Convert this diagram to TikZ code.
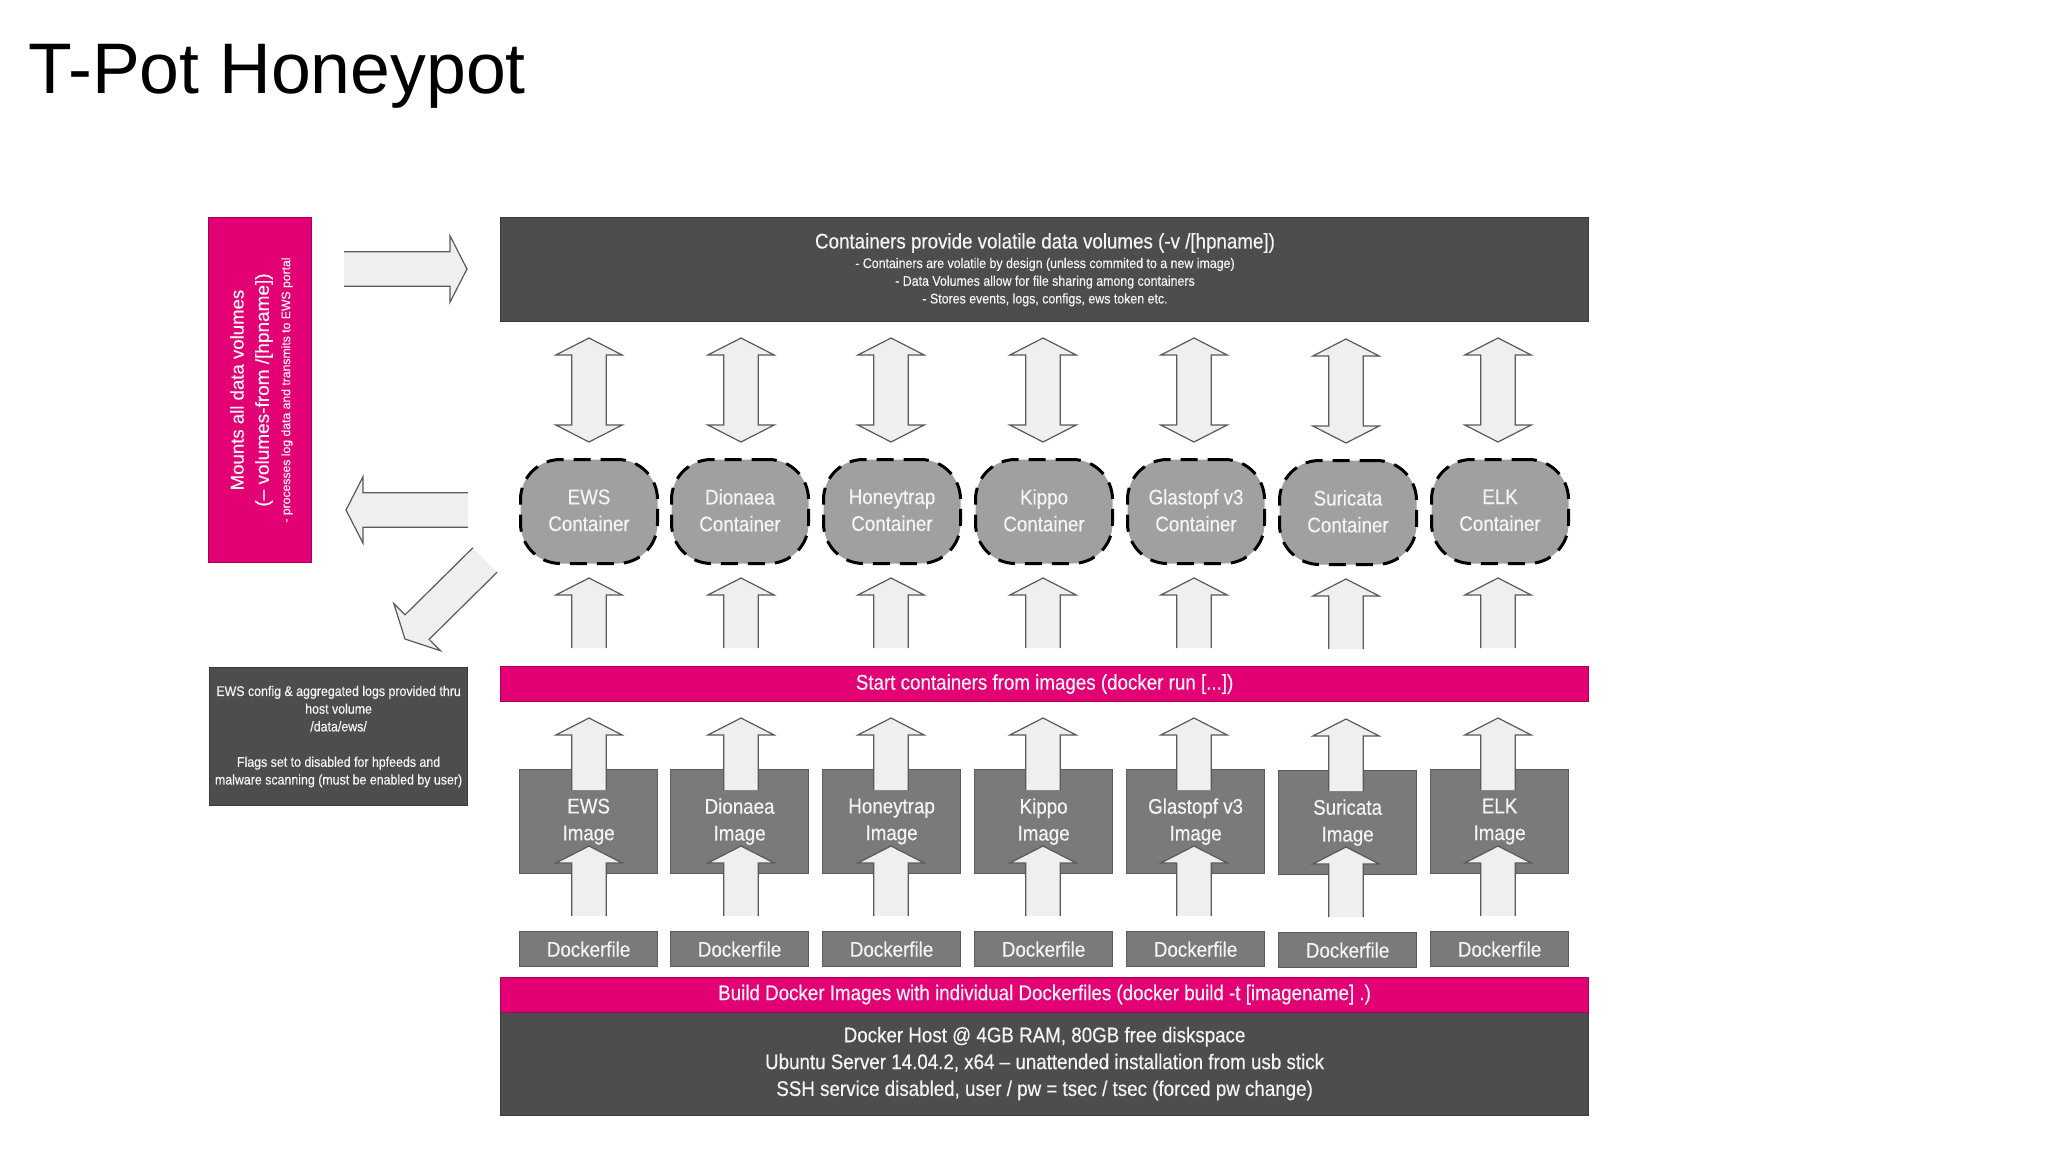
\documentclass[tikz,border=0pt]{standalone}
\usepackage{fontspec}
\setmainfont[FakeStretch=0.885,FakeBold=0.4]{Liberation Sans}
\newfontfamily\arialf{Liberation Sans}
\newfontfamily\arialb[FakeBold=0.4]{Liberation Sans}
\usetikzlibrary{calc}
\definecolor{tpink}{HTML}{E20074}
\definecolor{tdark}{HTML}{4D4D4D}
\definecolor{timg}{HTML}{7A7A7A}
\definecolor{tcont}{HTML}{A0A0A0}
\definecolor{tarrow}{HTML}{EFEFEF}
\definecolor{ttext}{HTML}{F4F4F4}
\tikzset{
  box/.style={draw=#1!75!black,line width=.6pt,fill=#1,text=ttext,inner sep=0pt,align=center,anchor=north west},
  sized/.style 2 args={minimum width=#1*.5pt,minimum height=#2*.5pt},
  big/.style={font=\fontsize{10.6}{13.4}\selectfont},
  small/.style={font=\fontsize{7}{8.85}\selectfont},
  imgbox/.style={box=timg,sized={138}{104},big},
  dockbox/.style={box=timg,sized={138}{35},big},
  contbox/.style={draw=black,line width=1.5pt,dash pattern=on 8.5pt off 5pt,fill=tcont,
     rounded corners=20pt,inner sep=0pt,anchor=north west,sized={137}{104}},
  contlabel/.style={text=ttext,align=center,inner sep=0pt,yshift=.6pt,big},
  arrowfill/.style={fill=tarrow,draw=none},
  arrowline/.style={draw=black!65,line width=.6pt,line join=miter}
}
\newcommand{\arrowcorners}[3]{% base, tip, suffix
  \coordinate (hb#3) at ($(#2)!8.5pt!(#1)$);
  \coordinate (L1#3) at ($(hb#3)!8.6pt!90:(#2)$);
  \coordinate (R1#3) at ($(hb#3)!8.6pt!-90:(#2)$);
  \coordinate (L2#3) at ($(hb#3)!16.6pt!90:(#2)$);
  \coordinate (R2#3) at ($(hb#3)!16.6pt!-90:(#2)$);
}
\newcommand{\blockarrow}[2]{%
  \arrowcorners{#1}{#2}{a}
  \coordinate (L0) at ($(#1)!8.6pt!90:(#2)$);
  \coordinate (R0) at ($(#1)!8.6pt!-90:(#2)$);
  \path[arrowfill] (L0)--(L1a)--(L2a)--(#2)--(R2a)--(R1a)--(R0)--cycle;
  \path[arrowline] (L0)--(L1a)--(L2a)--(#2)--(R2a)--(R1a)--(R0);
}
\newcommand{\doublearrow}[2]{%
  \arrowcorners{#1}{#2}{a}
  \arrowcorners{#2}{#1}{b}
  \path[arrowfill,arrowline] (#1)--(L2b)--(L1b)--(R1a)--(R2a)--(#2)--(L2a)--(L1a)--(R1b)--(R2b)--cycle;
}
\begin{document}
\begin{tikzpicture}[x=.5pt,y=-.5pt]
\useasboundingbox (0,0) rectangle (2048,1152);
\node[anchor=base west,inner sep=0pt,font=\arialf\fontsize{35.8}{40}\selectfont] (title) at (28,93) {T-Pot Honeypot};

% left panels
\node[box=tpink,sized={103}{345}] (mount) at (208,217) {};
\node[rotate=90,text=ttext,inner sep=0pt,font=\arialb\fontsize{9.3}{12}\selectfont] (m1) at (237,390) {Mounts all data volumes};
\node[rotate=90,text=ttext,inner sep=0pt,font=\arialb\fontsize{9.5}{12}\selectfont] (m2) at (264,390) {(– volumes-from /[hpname])};
\node[rotate=90,text=ttext,inner sep=0pt,font=\arialb\fontsize{6.1}{8}\selectfont] (m3) at (287,390) {- processes log data and transmits to EWS portal};

\node[box=tdark,sized={258}{138},small] (ews) at (209,667)
 {EWS config \& aggregated logs provided thru\\host volume\\/data/ews/\\[8.85pt]Flags set to disabled for hpfeeds and\\malware scanning (must be enabled by user)};

% wide bars
\node[box=tdark,sized={1088}{104}] (vol) at (500,217) {};
\node[text=ttext,inner sep=0pt,font=\fontsize{10.6}{13}\selectfont] (volt) at (1045,243) {Containers provide volatile data volumes (-v /[hpname])};
\node[text=ttext,inner sep=0pt,align=center,anchor=north,small] (vols) at (1045,257.5)
 {- Containers are volatile by design (unless commited to a new image)\\- Data Volumes allow for file sharing among containers\\- Stores events, logs, configs, ews token etc.};
\node[box=tpink,sized={1088}{35},big] (start) at (500,666) {Start containers from images (docker run [...])};
\node[box=tdark,sized={1088}{104},big] (host) at (500,1011)
 {Docker Host @ 4GB RAM, 80GB free diskspace\\Ubuntu Server 14.04.2, x64 – unattended installation from usb stick\\SSH service disabled, user / pw = tsec / tsec (forced pw change)};
\node[box=tpink,sized={1088}{35},big] (build) at (500,976.5) {Build Docker Images with individual Dockerfiles (docker build -t [imagename] .)};

% columns
\foreach \i/\bx/\cx/\dy/\nm in {1/519/589/0/EWS,2/670/741/0/Dionaea,3/822/891/0/Honeytrap,4/974/1043/0/Kippo,5/1126/1194/0/Glastopf v3,6/1278/1346/1/Suricata,7/1430/1498/0/ELK}{
  \node[contbox,label={[contlabel]center:\nm\\Container}] (cont\i) at (\bx,458+\dy) {};
  \node[imgbox] (img\i) at (\bx,769+\dy) {\nm\\Image};
  \node[dockbox] (dock\i) at (\bx,931+\dy) {Dockerfile};
  \coordinate (a\i) at (\cx,338+\dy);
  \coordinate (b\i) at (\cx,442+\dy);
  \doublearrow{a\i}{b\i}
  \coordinate (c\i) at (\cx,648+\dy);
  \coordinate (d\i) at (\cx,578+\dy);
  \blockarrow{c\i}{d\i}
  \coordinate (e\i) at (\cx,790+\dy);
  \coordinate (f\i) at (\cx,718+\dy);
  \blockarrow{e\i}{f\i}
  \coordinate (g\i) at (\cx,916+\dy);
  \coordinate (h\i) at (\cx,846+\dy);
  \blockarrow{g\i}{h\i}
}

% side arrows
\coordinate (ra0) at (344,269);
\coordinate (ra1) at (467,269);
\blockarrow{ra0}{ra1}
\coordinate (la0) at (468,510);
\coordinate (la1) at (346,510);
\blockarrow{la0}{la1}
\coordinate (da0) at (485,560);
\coordinate (da1) at (405,639);
\blockarrow{da0}{da1}
\end{tikzpicture}
\end{document}
